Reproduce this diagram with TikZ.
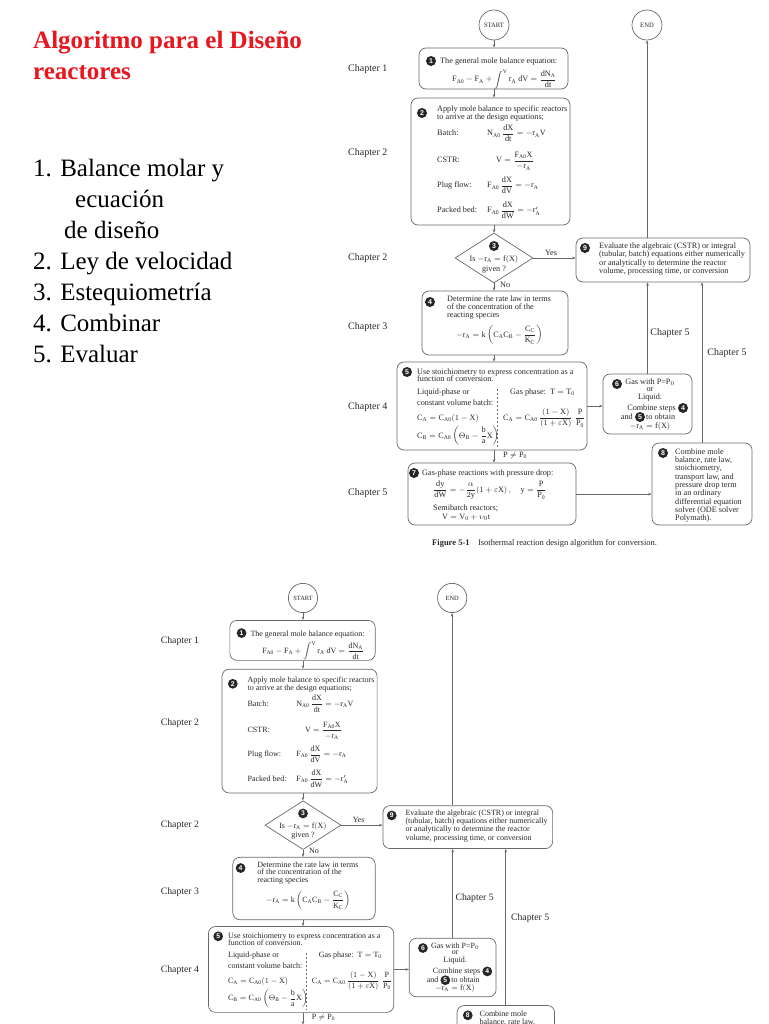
\documentclass[tikz,border=0pt]{standalone}
\usepackage{fontspec}
\usepackage{amsmath}
\setmainfont{Liberation Serif}
\setsansfont{Liberation Sans}
\usetikzlibrary{shapes.geometric,arrows.meta}
\definecolor{ttl}{RGB}{232,22,30}
\definecolor{ink}{RGB}{40,40,40}
\definecolor{edge}{RGB}{105,105,105}
\newcommand{\mr}[1]{\mathrm{#1}}
\newcommand{\fs}{\fontsize{8.2}{8.5}\selectfont}
\tikzset{
  bx/.style={draw=edge, line width=0.7pt, rounded corners=7pt, inner sep=0},
  term/.style={draw=edge, circle, line width=0.7pt, minimum size=30pt, inner sep=0, font=\fontsize{6.6}{7}\selectfont, text=ink},
  dec/.style={draw=edge, diamond, line width=0.7pt, minimum width=78pt, minimum height=50pt, inner sep=0, aspect=1.56},
  conn/.style={draw=edge, line width=0.6pt, -{Stealth[length=3.5pt,width=2.6pt]}},
  tx/.style={anchor=base west, inner sep=0, font=\fs, text=ink},
  txc/.style={anchor=base, inner sep=0, font=\fs, text=ink},
  bdg/.style={circle, fill=black!85, text=white, inner sep=0, minimum size=10pt, font=\sffamily\bfseries\fontsize{7}{7}\selectfont},
  chap/.style={anchor=west, inner sep=0, font=\fontsize{10}{12}\selectfont, text=ink},
  bigtxt/.style={anchor=base west, inner sep=0, font=\fontsize{25}{30}\selectfont, text=black},
}
\newcommand{\flowchart}{%
  % terminals and boxes
  \node[term] (start) at (494,25) {START};
  \node[term] (fin) at (647,25) {END};
  \node[bx, minimum width=149pt, minimum height=41pt] (b1) at (493.5,68.5) {};
  \node[bx, minimum width=159pt, minimum height=127pt] (b2) at (490.5,161.5) {};
  \node[dec] (d3) at (494,258) {};
  \node[bx, minimum width=174pt, minimum height=44pt] (b9) at (663,260) {};
  \node[bx, minimum width=146pt, minimum height=64pt] (b4) at (495,323) {};
  \node[bx, minimum width=190pt, minimum height=88pt] (b5) at (492,406) {};
  \node[bx, minimum width=89pt, minimum height=60pt] (b6) at (647.5,404) {};
  \node[bx, minimum width=168pt, minimum height=62pt] (b7) at (492,494) {};
  \node[bx, minimum width=100pt, minimum height=82pt] (b8) at (702,484) {};
  % chapter labels
  \node[chap] (c1) at (348,69) {Chapter 1};
  \node[chap] (c2) at (348,153) {Chapter 2};
  \node[chap] (c2b) at (348,258) {Chapter 2};
  \node[chap] (c3) at (348,327) {Chapter 3};
  \node[chap] (c4) at (348,407) {Chapter 4};
  \node[chap] (c5) at (348,493) {Chapter 5};
  \node[chap, anchor=center] (c5a) at (670,333) {Chapter 5};
  \node[chap, anchor=center] (c5b) at (727,353) {Chapter 5};
  % box 1
  \node[bdg] (n1) at (431,61) {1};
  \node[tx] (t1a) at (440,64) {The general mole balance equation:};
  \node[tx] (t1b) at (452,82) {$\mr{F_{A0}-F_A}+\displaystyle\int^{\mr{V}}\mr{r_A\ dV}=\frac{\mr{dN_A}}{\mr{dt}}$};
  % box 2
  \node[bdg] (n2) at (422,113) {2};
  \node[tx] (t2a) at (437,112) {Apply mole balance to specific reactors};
  \node[tx] (t2b) at (437,120) {to arrive at the design equations;};
  \node[tx] (l2a) at (437,136) {Batch:};
  \node[tx] (e2a) at (487,136) {$\mr{N_{A0}}\,\dfrac{\mr{dX}}{\mr{dt}}=-\mr{r_AV}$};
  \node[tx] (l2b) at (437,163) {CSTR:};
  \node[tx] (e2b) at (496,163) {$\mr{V}=\dfrac{\mr{F_{A0}X}}{-\mr{r_A}}$};
  \node[tx] (l2c) at (437,188) {Plug flow:};
  \node[tx] (e2c) at (487,188) {$\mr{F_{A0}}\,\dfrac{\mr{dX}}{\mr{dV}}=-\mr{r_A}$};
  \node[tx] (l2d) at (437,213) {Packed bed:};
  \node[tx] (e2d) at (487,213) {$\mr{F_{A0}}\,\dfrac{\mr{dX}}{\mr{dW}}=-\mr{r'_A}$};
  % diamond 3
  \node[bdg] (n3) at (494,246) {3};
  \node[txc] (t3a) at (494,261) {Is $-\mr{r_A}=\mr{f(X)}$};
  \node[txc] (t3b) at (494,271) {given ?};
  \node[txc] (yes) at (551,255) {Yes};
  \node[tx] (no) at (500,287) {No};
  % box 9
  \node[bdg] (n9) at (585,248) {9};
  \node[tx] (t9a) at (599,248) {Evaluate the algebraic (CSTR) or integral};
  \node[tx] (t9b) at (599,256.5) {(tubular, batch) equations either numerically};
  \node[tx] (t9c) at (599,265) {or analytically to determine the reactor};
  \node[tx] (t9d) at (599,273.5) {volume, processing time, or conversion};
  % box 4
  \node[bdg] (n4) at (430,302) {4};
  \node[tx] (t4a) at (447,301) {Determine the rate law in terms};
  \node[tx] (t4b) at (447,309) {of the concentration of the};
  \node[tx] (t4c) at (447,317) {reacting species};
  \node[tx] (e4) at (456,337) {$-\mr{r_A}=\mr{k}\left(\mr{C_AC_B}-\dfrac{\mr{C_C}}{\mr{K_C}}\right)$};
  % box 5
  \node[bdg] (n5) at (407,372) {5};
  \node[tx] (t5a) at (417,374) {Use stoichiometry to express concentration as a};
  \node[tx] (t5b) at (417,381) {function of conversion.};
  \node[tx] (t5c) at (417,394) {Liquid-phase or};
  \node[tx] (t5d) at (417,405) {constant volume batch:};
  \node[tx] (e5a) at (417,420) {$\mr{C_A}=\mr{C_{A0}}(1-\mr{X})$};
  \node[tx] (e5b) at (417,438) {$\mr{C_B}=\mr{C_{A0}}\left(\Theta_{\mr{B}}-\dfrac{\mr{b}}{\mr{a}}\mr{X}\right)$};
  \node[tx] (t5e) at (510,394) {Gas phase:\enspace $\mr{T}=\mr{T_0}$};
  \node[tx] (e5c) at (503,420) {$\mr{C_A}=\mr{C_{A0}}\,\dfrac{(1-\mr{X})}{(1+\varepsilon\mr{X})}\;\dfrac{\mr{P}}{\mr{P_0}}$};
  \draw[draw=edge, line width=0.5pt, dash pattern=on 2pt off 2pt] (497,389) -- (497,447);
  % box 6
  \node[bdg] (n6) at (617,384) {6};
  \node[txc] (t6a) at (650,384) {Gas with P=P$_0$};
  \node[txc] (t6b) at (650,391) {or};
  \node[txc] (t6c) at (650,399) {Liquid.};
  \node[tx, anchor=base east] (t6d) at (676,410) {Combine steps};
  \node[bdg] (n6a) at (683,408) {4};
  \node[tx, anchor=base east] (t6e) at (633,419) {and};
  \node[bdg] (n6b) at (640,417) {5};
  \node[tx] (t6f) at (646,419) {to obtain};
  \node[txc] (e6) at (650,428) {$-\mr{r_A}=\mr{f(X)}$};
  % box 7
  \node[bdg] (n7) at (414,473) {7};
  \node[tx] (t7a) at (422,475) {Gas-phase reactions with pressure drop:};
  \node[tx] (e7) at (433,492) {$\dfrac{\mr{dy}}{\mr{dW}}=-\dfrac{\alpha}{2\mr{y}}(1+\varepsilon\mr{X})\,,\quad \mr{y}=\dfrac{\mr{P}}{\mr{P_0}}$};
  \node[tx] (t7b) at (433,510) {Semibatch reactors;};
  \node[tx] (e7b) at (442,519) {$\mr{V}=\mr{V_0}+\upsilon_0\mr{t}$};
  % box 8
  \node[bdg] (n8) at (663,453) {8};
  \node[tx] (t8a) at (675,454) {Combine mole};
  \node[tx] (t8b) at (675,462.3) {balance, rate law,};
  \node[tx] (t8c) at (675,470.6) {stoichiometry,};
  \node[tx] (t8d) at (675,479) {transport law, and};
  \node[tx] (t8e) at (675,487.3) {pressure drop term};
  \node[tx] (t8f) at (675,495.6) {in an ordinary};
  \node[tx] (t8g) at (675,504) {differential equation};
  \node[tx] (t8h) at (675,512.3) {solver (ODE solver};
  \node[tx] (t8i) at (675,520.6) {Polymath).};
  \node[tx] (pne) at (503,457) {$\mr{P}\neq\mr{P_0}$};
  \node[tx, font=\fontsize{8.5}{10}\selectfont] (cap) at (432,545) {\textbf{Figure 5-1}\quad Isothermal reaction design algorithm for conversion.};
  % connectors
  \draw[conn] (start.south) -- (start.south |- b1.north);
  \draw[conn] (b1.south -| d3) -- (b2.north -| d3);
  \draw[conn] (b2.south -| d3) -- (d3.north);
  \draw[conn] (d3.east) -- (d3.east -| b9.west);
  \draw[conn] (d3.south) -- (d3.south |- b4.north);
  \draw[conn] (b4.south -| d3) -- (b5.north -| d3);
  \draw[conn] (b5.south -| d3) -- (b7.north -| d3);
  \draw[conn] (b5.east) -- (b5.east -| b6.west);
  \draw[conn] (b7.east) -- (b7.east -| b8.west);
  \draw[conn] (b6.north) -- (b6.north |- b9.south);
  \draw[conn] (b8.north) -- (b8.north |- b9.south);
  \draw[conn] (b9.north -| fin) -- (fin.south);
}
\begin{document}
\begin{tikzpicture}[x=1pt, y=-1pt]
  \useasboundingbox[fill=white] (0,0) rectangle (768,1024);
  \clip (0,0) rectangle (768,1024);
  % left text
  \node[anchor=base west, inner sep=0, font=\fontsize{25}{30}\selectfont\bfseries, text=ttl] (title1) at (33,49) {Algoritmo para el Diseño};
  \node[anchor=base west, inner sep=0, font=\fontsize{25}{30}\selectfont\bfseries, text=ttl] (title2) at (33,80) {reactores};
  \node[bigtxt] (li1) at (33,177) {1. Balance molar y};
  \node[bigtxt] (li1b) at (75,208) {ecuación};
  \node[bigtxt] (li1c) at (64,238.5) {de diseño};
  \node[bigtxt] (li2) at (33,269.5) {2. Ley de velocidad};
  \node[bigtxt] (li3) at (33,300) {3. Estequiometría};
  \node[bigtxt] (li4) at (33,331) {4. Combinar};
  \node[bigtxt] (li5) at (33,362) {5. Evaluar};
  % top chart
  \begin{scope}[name prefix=top-]
    \flowchart
  \end{scope}
  % bottom chart (enlarged copy)
  \begin{scope}[shift={(-178.65,573.6)}, scale=0.975, transform shape, name prefix=bot-]
    \flowchart
  \end{scope}
\end{tikzpicture}
\end{document}
